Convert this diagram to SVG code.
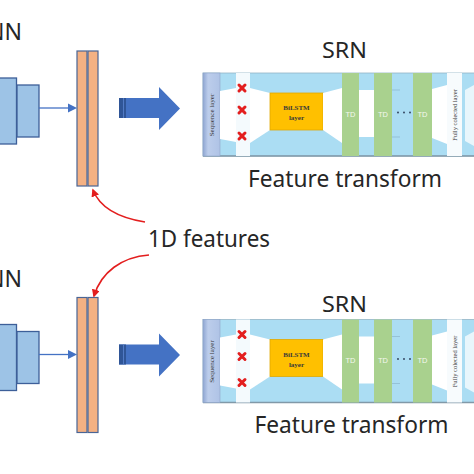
<svg xmlns="http://www.w3.org/2000/svg" width="474" height="474" viewBox="0 0 474 474">
<style>
.lbl{font-family:"Noto Sans","Liberation Sans",sans-serif;fill:#262626}
.cnnbox{fill:#9DC3E6;stroke:#3D5F99;stroke-width:1.3}
.feat{fill:#F4B183;stroke:#4A6595;stroke-width:1.2}
.bigarrow{fill:#4472C4}
.tiny{font-family:"Liberation Serif",serif;fill:#3a3a3a}
.wh{fill:#FFFFFF}
.td{fill:#A9D18E}
.tdt{font-family:"Liberation Sans",sans-serif;font-size:7.5px;fill:#F4F8F0}
.xm{stroke:#E31E1E;stroke-width:3;stroke-linecap:round}
.red{fill:none;stroke:#E31E1E;stroke-width:1.6}
</style>
<defs>
<linearGradient id="seqg" x1="0" y1="0" x2="1" y2="0">
<stop offset="0" stop-color="#8FA6D2"/><stop offset="0.3" stop-color="#BCCDEB"/><stop offset="1" stop-color="#AFC3E6"/>
</linearGradient>
<marker id="redhead" viewBox="0 0 10 10" refX="8" refY="5" markerWidth="5" markerHeight="5" orient="auto-start-reverse">
<path d="M0,0 L10,5 L0,10 z" fill="#E31E1E"/>
</marker>
<g id="cnnpart">
<rect class="cnnbox" x="-5" y="78" width="21.5" height="66"/>
<rect class="cnnbox" x="17" y="85" width="22" height="52"/>
<line x1="39" y1="108" x2="70" y2="108" stroke="#4472C4" stroke-width="1.3"/>
<path d="M68,103.5 L77,108 L68,112.5 z" fill="#4472C4"/>
<rect class="feat" x="77" y="51" width="10" height="135"/>
<rect class="feat" x="88" y="51" width="10" height="135"/>
<path class="bigarrow" d="M119,98 L159,98 L159,87 L180,108.5 L159,130 L159,118 L119,118 z"/>
<rect x="119" y="98" width="7" height="20" fill="#2F5597"/>
<line x1="123.5" y1="98" x2="123.5" y2="118" stroke="#5B84CF" stroke-width="0.8"/>
</g>
<g id="srnblock">
<rect x="203" y="73" width="290" height="83" fill="#ABDDF3" stroke="#93B5C6" stroke-width="0.8"/>
<line x1="203" y1="156" x2="474" y2="156" stroke="#8199A8" stroke-width="1.4"/>
<rect x="203" y="73" width="17" height="83" fill="url(#seqg)" stroke="#8FA3C8" stroke-width="0.6"/>
<text class="tiny" font-size="7" transform="translate(213.5,115) rotate(-90)" text-anchor="middle">Sequence  layer</text>
<polygon class="wh" points="220,91 236,88 236,142 220,139"/>
<rect x="236" y="73" width="14" height="83" fill="#F4FAFD"/>
<polygon class="wh" points="250,88 270,93 270,130 250,143"/>
<rect x="270" y="93" width="53" height="37" fill="#FFC000" stroke="#E2A800" stroke-width="0.8"/>
<text class="tiny" font-size="7" font-weight="bold" x="296.5" y="110" text-anchor="middle">BiLSTM</text>
<text class="tiny" font-size="7" font-weight="bold" x="296.5" y="120" text-anchor="middle">layer</text>
<polygon class="wh" points="323,93 342,88 342,143 323,130"/>
<rect class="td" x="342" y="73" width="17" height="83"/>
<rect class="wh" x="359" y="90" width="15" height="47"/>
<rect class="td" x="374" y="73" width="18" height="83"/>
<rect class="td" x="413" y="73" width="19" height="83"/>
<text class="tdt" x="350.5" y="116.5" text-anchor="middle">TD</text>
<text class="tdt" x="383" y="116.5" text-anchor="middle">TD</text>
<text class="tdt" x="422.5" y="116.5" text-anchor="middle">TD</text>
<circle cx="398" cy="112.5" r="0.9" fill="#2a3a55"/>
<circle cx="404" cy="112.5" r="0.9" fill="#2a3a55"/>
<circle cx="410" cy="112.5" r="0.9" fill="#2a3a55"/>
<line x1="392" y1="90" x2="400" y2="90" stroke="#7FA7BE" stroke-width="0.5"/>
<line x1="392" y1="137" x2="400" y2="137" stroke="#7FA7BE" stroke-width="0.5"/>
<polygon class="wh" points="432,89 447,85 447,144 432,138"/>
<rect x="447" y="73" width="15" height="83" fill="#F7FBFD"/>
<text class="tiny" font-size="6.5" transform="translate(456.5,115) rotate(-90)" text-anchor="middle">Fully colected layer</text>
<polygon points="465,90 474,85 474,146 465,141" fill="#E8F6FC"/>
<line class="xm" x1="239" y1="85" x2="245" y2="91"/><line class="xm" x1="245" y1="85" x2="239" y2="91"/>
<line class="xm" x1="239" y1="107" x2="245" y2="113"/><line class="xm" x1="245" y1="107" x2="239" y2="113"/>
<line class="xm" x1="239" y1="133" x2="245" y2="139"/><line class="xm" x1="245" y1="133" x2="239" y2="139"/>
</g>
</defs>

<g id="cnn-top">
<text class="lbl" x="22" y="40" font-size="23" text-anchor="end">CNN</text>
<use href="#cnnpart"/>
</g>
<g id="srn-top">
<text class="lbl" x="344.5" y="58" font-size="21" text-anchor="middle" textLength="45" lengthAdjust="spacingAndGlyphs">SRN</text>
<use href="#srnblock"/>
<text class="lbl" x="345" y="187" font-size="23" text-anchor="middle" textLength="194" lengthAdjust="spacingAndGlyphs">Feature transform</text>
</g>

<g id="label-1d">
<text class="lbl" x="209" y="247" font-size="23" text-anchor="middle" textLength="122" lengthAdjust="spacingAndGlyphs">1D features</text>
</g>

<g id="cnn-bottom">
<text class="lbl" x="22" y="287" font-size="23" text-anchor="end">CNN</text>
<use href="#cnnpart" transform="translate(0,246.5)"/>
</g>
<g id="srn-bottom">
<text class="lbl" x="344.5" y="312" font-size="21" text-anchor="middle" textLength="45" lengthAdjust="spacingAndGlyphs">SRN</text>
<use href="#srnblock" transform="translate(0,246.5)"/>
<text class="lbl" x="351.5" y="433" font-size="23" text-anchor="middle" textLength="194" lengthAdjust="spacingAndGlyphs">Feature transform</text>
</g>

<g id="connectors">
<path class="red" d="M145,222 C120,218 100,208 93,190" marker-end="url(#redhead)"/>
<path class="red" d="M149,255 C122,257 101,272 94,296" marker-end="url(#redhead)"/>
</g>
</svg>
